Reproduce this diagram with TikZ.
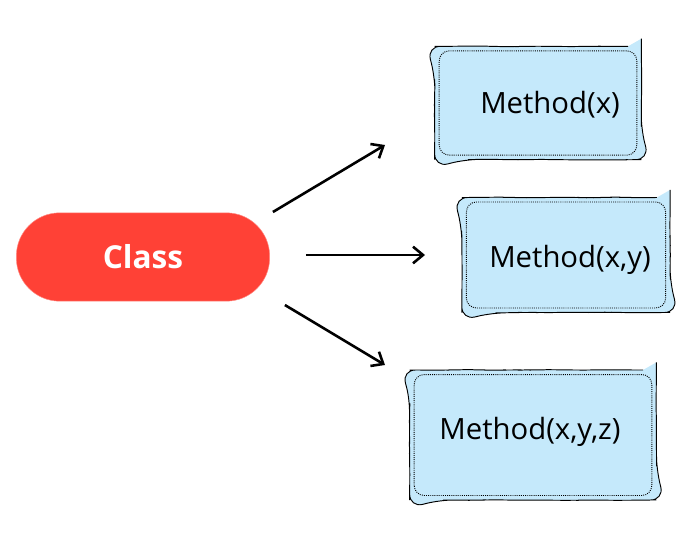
\documentclass[tikz,border=0pt]{standalone}
\usepackage{fontspec}
\setmainfont{Open Sans}
\usetikzlibrary{positioning, decorations.pathmorphing, calc}
\usetikzlibrary{arrows.meta}
\definecolor{classred}{HTML}{FF4136}
\definecolor{methblue}{HTML}{C5E9FB}
\tikzstyle{cls} = [rectangle, rounded corners=1.3cm, fill=classred, draw=classred!60,
minimum width=7.6cm, minimum height=2.65cm, text=white, font=\fontsize{27}{32}\selectfont\bfseries]
\tikzstyle{method} = [rectangle, rounded corners=0.4cm, fill=methblue, draw=black, thick,
decorate, decoration={random steps, segment length=0.5cm, amplitude=0.4pt},
font=\fontsize{25}{30}\selectfont]
\tikzstyle{arrow} = [line width=2.2pt, ->, >={Straight Barb[length=3mm, width=5mm]}]

\begin{document}
\begin{tikzpicture}[x=0.03cm, y=-0.03cm]
  \useasboundingbox (0,0) rectangle (677,538);
  \node (class) [cls] at (143,257) {Class};
  \node (m1) [method, minimum width=6.2cm, minimum height=3.4cm] at (538,103) {};
  \node (m2) [method, minimum width=6.25cm, minimum height=3.45cm] at (566,255) {};
  \node (m3) [method, minimum width=7.4cm, minimum height=3.9cm] at (533,435) {};
  \foreach \m in {m1, m2, m3}
    \draw[densely dotted, thick, rounded corners=0.3cm]
      ($(\m.south west)+(5,-5)$) rectangle ($(\m.north east)+(-5,5)$);
  \node (t1) [font=\fontsize{25}{30}\selectfont] at (550,105) {Method(x)};
  \node (t2) [font=\fontsize{25}{30}\selectfont] at (570,260) {Method(x,y)};
  \node (t3) [font=\fontsize{25}{30}\selectfont] at (530,432) {Method(x,y,z)};

  \coordinate (a1) at (385,145);
  \coordinate (a2) at (425,255);
  \coordinate (a3) at (385,365);
  \draw[arrow] ($(class.east)+(3,-45)$) -- (a1);
  \draw[arrow] ($(class.east)+(36,-2)$) -- (a2);
  \draw[arrow] ($(class.east)+(15,48)$) -- (a3);
\end{tikzpicture}
\end{document}
